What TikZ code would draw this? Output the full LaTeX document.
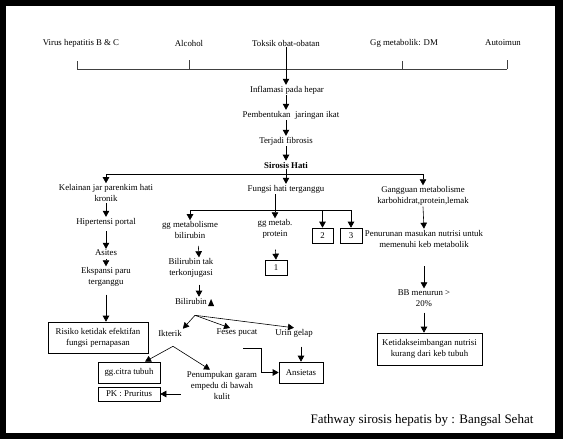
\documentclass[tikz,border=0pt]{standalone}
\usepackage{fontspec}
\setmainfont{Liberation Serif}
\usetikzlibrary{arrows.meta,calc}

\begin{document}
\begin{tikzpicture}[x=1pt,y=-1pt,
  txt/.style={align=center,inner sep=1pt,font=\fontsize{8.8}{11}\selectfont},
  kotak/.style={txt,draw,line width=0.6pt},
  arr/.style={-{Triangle[length=6pt,width=6.5pt]},line width=0.6pt},
  garis/.style={line width=0.6pt}]
  % frame
  \useasboundingbox (0,0) rectangle (563,439);
  \fill[black] (0,0) rectangle (563,439);
  \fill[white] (6,6) rectangle (555,433);
  % causes
  \node[txt] (virus) at (81,43) {Virus hepatitis B \& C};
  \node[txt] (alkohol) at (189,43) {Alcohol};
  \node[txt] (toksik) at (286,43) {Toksik obat-obatan};
  \node[txt] (ggdm) at (404,43) {Gg metabolik: DM};
  \node[txt] (autoimun) at (503,43) {Autoimun};
  \coordinate (bus) at (286,69);
  \foreach \n/\dx in {virus/-4,alkohol/0,ggdm/-2,autoimun/4}
    \draw[garis,black!75] ($(\n.south)+(\dx,13)$) -- ($(\n.south |- bus)+(\dx,0)$);
  \draw[garis,black!75] ($(virus.south |- bus)+(-4,0)$) -- ($(autoimun.south |- bus)+(4,0)$);
  % main chain
  \node[txt] (inflamasi) at (287,90) {Inflamasi pada hepar};
  \node[txt] (ikat) at (291,115) {Pembentukan\ \ jaringan ikat};
  \node[txt] (fibrosis) at (286,141) {Terjadi fibrosis};
  \node[txt,font=\fontsize{8.8}{11}\selectfont\bfseries] (sirosis) at (286,165) {Sirosis Hati};
  \draw[arr] (toksik.south) -- (toksik.south |- inflamasi.north);
  \draw[arr] (inflamasi.south -| toksik) -- (toksik |- ikat.north);
  \draw[arr] (ikat.south -| toksik) -- (toksik |- fibrosis.north);
  \draw[arr] (fibrosis.south) -- (sirosis.north);
  % three branches
  \node[txt] (kelainan) at (106,193) {Kelainan jar parenkim hati\\kronik};
  \node[txt] (fungsi) at (286,189) {Fungsi hati terganggu};
  \node[txt] (gangguan) at (423,196) {Gangguan metabolisme\\karbohidrat,protein,lemak};
  \coordinate (sbus) at (286,174);
  \draw[garis] (sirosis.south) -- (sbus);
  \draw[garis] (kelainan.north |- sbus) -- (gangguan.north |- sbus);
  \foreach \n in {kelainan,fungsi,gangguan}
    \draw[arr] (\n.north |- sbus) -- (\n.north);
  % left column
  \node[txt] (hipertensi) at (106,222) {Hipertensi portal};
  \node[txt] (asites) at (106,253) {Asites};
  \node[txt] (ekspansi) at (106,277) {Ekspansi paru\\terganggu};
  \node[kotak,minimum width=100,minimum height=31] (risiko) at (98,337.5) {Risiko ketidak efektifan\\fungsi pernapasan};
  \draw[arr] (kelainan.south) -- (hipertensi.north);
  \draw[arr,shorten <=4pt] (hipertensi.south) -- (asites.north);
  \draw[arr,shorten <=2pt] (asites.south) -- (ekspansi.north);
  \draw[arr,shorten <=7pt] (ekspansi.south) -- (ekspansi.south |- risiko.north);
  % liver function
  \node[txt] (ggbili) at (190,230) {gg metabolisme\\bilirubin};
  \node[txt] (ggprot) at (275,229) {gg metab.\\protein};
  \node[kotak,minimum width=22,minimum height=15] (box1) at (276,267.5) {1};
  \node[kotak,minimum width=21,minimum height=15] (box2) at (322.5,235.5) {2};
  \node[kotak,minimum width=22,minimum height=15] (box3) at (351,235.5) {3};
  \coordinate (fbus) at (275,210);
  \draw[garis] (fungsi.south -| fbus) -- (fbus);
  \draw[garis] (ggbili.north |- fbus) -- (box3.north |- fbus);
  \foreach \n in {ggbili,ggprot,box2,box3}
    \draw[arr] (\n.north |- fbus) -- (\n.north);
  \draw[arr,shorten <=10pt] (ggprot.south) -- (box1.north);
  % bilirubin
  \node[txt] (taktk) at (191,268) {Bilirubin tak\\terkonjugasi};
  \node[txt] (bilirubin) at (191,301) {Bilirubin};
  \fill ($(bilirubin.east)+(0,5)$) -- ++(6,0) -- ++(-3,-7) -- cycle;
  \draw[arr,shorten <=6pt] ($(ggbili.south)+(8,0)$) -- ($(taktk.north)+(8,0)$);
  \draw[arr,shorten <=6pt] ($(taktk.south)+(8,0)$) -- ($(bilirubin.north)+(8,0)$);
  \node[txt] (ikterik) at (170,333) {Ikterik};
  \node[txt] (feses) at (237,333) {Feses pucat};
  \node[txt] (urin) at (294,333) {Urin gelap};
  \coordinate (fan) at ($(bilirubin.south)+(4,10)$);
  \draw[arr] (fan) -- (ikterik.north east);
  \draw[arr] (fan) -- ($(feses.north)+(-7,0)$);
  \draw[arr] (fan) -- (urin.north);
  % ikterik
  \node[kotak,minimum width=62,minimum height=21] (citra) at (129,372.5) {gg.citra tubuh};
  \node[kotak,minimum width=62,minimum height=14] (pk) at (129,394) {PK : Pruritus};
  \node[txt] (penumpukan) at (222,385) {Penumpukan garam\\empedu di bawah\\kulit};
  \coordinate (ifork) at ($(ikterik.south)+(3,9)$);
  \draw[arr] (ifork) -- ($(citra.north)+(16,0)$);
  \draw[arr] (ifork) -- ($(penumpukan.north)+(-12,0)$);
  \draw[arr,shorten <=5pt] (penumpukan.west |- pk.east) -- (pk.east);
  % ansietas
  \node[kotak,minimum width=44,minimum height=21] (ansietas) at (301,372.5) {Ansietas};
  \draw[arr] ($(feses.south)+(6,10)$) -- ++(18,0) |- (ansietas.west);
  \draw[arr] ($(ansietas.north)+(0,-15)$) -- (ansietas.north);
  % right column
  \node[txt] (penurunan) at (424,238.5) {Penurunan masukan nutrisi untuk\\memenuhi keb metabolik};
  \node[txt] (bb) at (424,298) {BB menurun >\\20\%};
  \node[kotak,minimum width=105,minimum height=32] (ketidak) at (429.5,349) {Ketidakseimbangan nutrisi\\kurang dari keb tubuh};
  \draw[arr] (gangguan.south) -- (penurunan.north);
  \draw[arr,shorten <=18pt] (penurunan.south) -- (bb.north);
  \draw[arr,shorten <=5pt] (bb.south) -- (bb.south |- ketidak.north);
  % caption
  \node[font=\fontsize{13}{15}\selectfont,inner sep=0pt] (judul) at (422,420) {Fathway sirosis hepatis by : Bangsal Sehat};
\end{tikzpicture}
\end{document}
